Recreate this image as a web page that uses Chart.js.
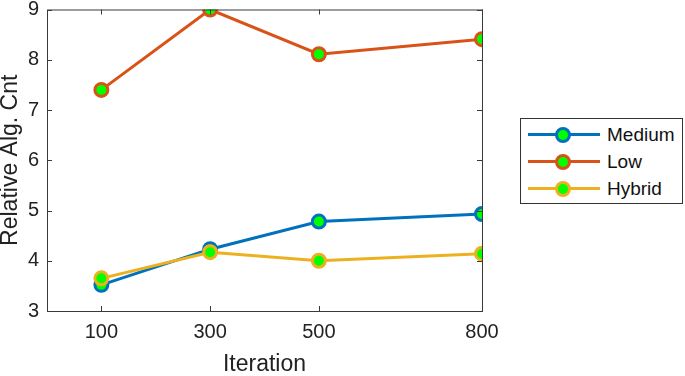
<!DOCTYPE html>
<html>
<head>
<meta charset="utf-8">
<script src="https://cdn.jsdelivr.net/npm/chart.js@4.4.0/dist/chart.umd.min.js"></script>
<style>
    body { margin: 0; background: #fff; }
    #wrap { position: relative; width: 685px; height: 376px; }
    #legend {
        position: absolute; left: 520px; top: 118px; width: 161px; height: 84px;
        border: 1px solid #333; background: #fff;
        font-family: "Liberation Sans", Arial, sans-serif; font-size: 19px; color: #111;
    }
    .row { position: absolute; left: 0; height: 26px; width: 100%; }
    .row .ln { position: absolute; left: 7px; top: 11px; width: 72px; height: 3px; }
    .row .mk { position: absolute; left: 34px; top: 5px; width: 10px; height: 10px; border-radius: 50%; border: 3px solid; background: #00ff00; }
    .row .tx { position: absolute; left: 86px; top: 1px; line-height: 24px; }
</style>
</head>
<body>
<div id="wrap">
    <canvas id="chart" width="685" height="376"></canvas>
    <div id="legend"></div>
</div>
<script>
// Data
const iterations = [100, 300, 500, 800];
const seriesNames = ['Medium', 'Low', 'Hybrid'];
const mediumValues = [3.52, 4.23, 4.78, 4.93];
const lowValues = [7.40, 9.00, 8.11, 8.41];
const hybridValues = [3.65, 4.17, 4.00, 4.14];
const yTicks = [3, 4, 5, 6, 7, 8, 9];

const colors = ['#0072BD', '#D95319', '#EDB120'];
const markerFill = '#00ff00';
const axisColor = '#3a3a3a';
const fontFamily = '"Liberation Sans", Arial, sans-serif';

function makeDataset(label, values, color, order) {
    return {
        label: label,
        data: iterations.map((x, i) => ({ x: x, y: values[i] })),
        borderColor: color,
        backgroundColor: markerFill,
        borderWidth: 3,
        pointRadius: 6.5,
        pointBorderWidth: 3,
        pointBackgroundColor: markerFill,
        pointBorderColor: color,
        tension: 0,
        order: order
    };
}

// Box around the plot with inward ticks, like the original
const boxPlugin = {
    id: 'box',
    afterDraw(chart) {
        const { ctx, chartArea: a, scales } = chart;
        ctx.save();
        ctx.strokeStyle = axisColor;
        ctx.lineWidth = 1;
        ctx.strokeRect(a.left + 0.5, a.top + 0.5, a.right - a.left, a.bottom - a.top);
        ctx.beginPath();
        iterations.forEach(v => {
            const x = Math.round(scales.x.getPixelForValue(v)) + 0.5;
            ctx.moveTo(x, a.bottom); ctx.lineTo(x, a.bottom - 5);
            ctx.moveTo(x, a.top); ctx.lineTo(x, a.top + 5);
        });
        yTicks.forEach(v => {
            const y = Math.round(scales.y.getPixelForValue(v)) + 0.5;
            ctx.moveTo(a.left, y); ctx.lineTo(a.left + 5, y);
            ctx.moveTo(a.right, y); ctx.lineTo(a.right - 5, y);
        });
        ctx.stroke();
        ctx.restore();
    }
};

const ctx = document.getElementById('chart').getContext('2d');
new Chart(ctx, {
    type: 'line',
    data: {
        datasets: [
            makeDataset(seriesNames[0], mediumValues, colors[0], 3),
            makeDataset(seriesNames[1], lowValues, colors[1], 2),
            makeDataset(seriesNames[2], hybridValues, colors[2], 1)
        ]
    },
    options: {
        responsive: false,
        animation: false,
        layout: { padding: { top: 9, right: 203, left: 0, bottom: 0 } },
        plugins: { legend: { display: false }, tooltip: { enabled: false } },
        scales: {
            x: {
                type: 'linear',
                min: 0,
                max: 800,
                afterBuildTicks: scale => { scale.ticks = iterations.map(v => ({ value: v })); },
                afterFit: scale => { scale.height = 65; scale.paddingLeft = 0; scale.paddingRight = 0; },
                grid: { display: false, drawTicks: false },
                border: { display: false },
                ticks: { color: '#222', font: { family: fontFamily, size: 20 }, padding: 9, maxRotation: 0 },
                title: {
                    display: true, text: 'Iteration', color: '#222',
                    font: { family: fontFamily, size: 23, lineHeight: 1.0 }, padding: { top: 0, bottom: 0 }
                }
            },
            y: {
                min: 3,
                max: 9,
                afterBuildTicks: scale => { scale.ticks = yTicks.map(v => ({ value: v })); },
                afterFit: scale => { scale.width = 47; scale.paddingTop = 0; scale.paddingBottom = 0; },
                grid: { display: false, drawTicks: false },
                border: { display: false },
                ticks: { color: '#222', font: { family: fontFamily, size: 20 }, padding: 8 },
                title: {
                    display: true, text: 'Relative Alg. Cnt', color: '#222',
                    font: { family: fontFamily, size: 23, lineHeight: 0.9 }, padding: { top: 0, bottom: 0 }
                }
            }
        }
    },
    plugins: [boxPlugin]
});

// Legend in the style of the original (line with marker)
const legend = document.getElementById('legend');
seriesNames.forEach((name, i) => {
    const row = document.createElement('div');
    row.className = 'row';
    row.style.top = (3 + i * 27) + 'px';
    row.innerHTML = '<div class="ln" style="background:' + colors[i] + '"></div>' +
        '<div class="mk" style="border-color:' + colors[i] + '"></div>' +
        '<div class="tx">' + name + '</div>';
    legend.appendChild(row);
});
</script>
</body>
</html>
